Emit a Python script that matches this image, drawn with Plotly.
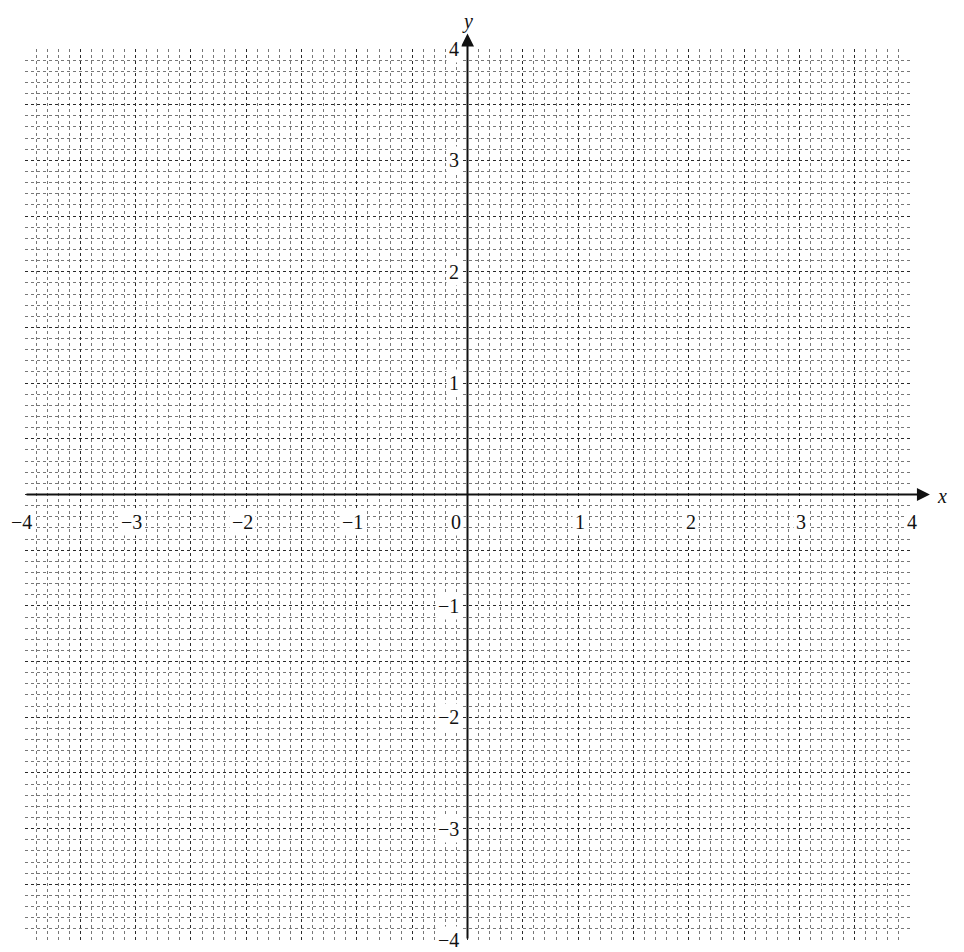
import plotly.graph_objects as go

x_range = [-4, 4]
y_range = [-4, 4]
x_tick_values = [-4, -3, -2, -1, 0, 1, 2, 3, 4]
x_tick_labels = ["−4", "−3", "−2", "−1", "0", "1", "2", "3", "4"]
y_tick_values = [-4, -3, -2, -1, 1, 2, 3, 4]
y_tick_labels = ["−4", "−3", "−2", "−1", "1", "2", "3", "4"]
arrow_tip_x = 4.18
arrow_tip_y = 4.14

FONT = "Liberation Serif, Times New Roman, serif"

fig = go.Figure()
fig.add_trace(go.Scatter(x=[], y=[], showlegend=False))

axis_common = dict(
    showgrid=True, gridcolor="#2a2a2a", griddash="dot", gridwidth=1,
    dtick=0.5, tick0=0, showticklabels=False, ticks="",
    zeroline=False, showline=False, fixedrange=True,
    minor=dict(showgrid=True, dtick=0.1, gridcolor="#777777", griddash="dot", gridwidth=1),
)
fig.update_xaxes(range=x_range, **axis_common)
fig.update_yaxes(range=y_range, **axis_common)

annotations = []
annotations.append(dict(x=arrow_tip_x, y=0, ax=x_range[0], ay=0, xref="x", yref="y", axref="x", ayref="y",
                        text="", showarrow=True, arrowhead=2, arrowsize=1.3, arrowwidth=2, arrowcolor="#111111"))
annotations.append(dict(x=0, y=arrow_tip_y, ax=0, ay=y_range[0], xref="x", yref="y", axref="x", ayref="y",
                        text="", showarrow=True, arrowhead=2, arrowsize=1.3, arrowwidth=2, arrowcolor="#111111"))
annotations.append(dict(x=x_range[1], y=0, xref="x", yref="y", text="<i>x</i>", showarrow=False,
                        xanchor="center", yanchor="middle", xshift=32, yshift=-1,
                        font=dict(family=FONT, size=20, color="#111111")))
annotations.append(dict(x=0, y=y_range[1], xref="x", yref="y", text="<i>y</i>", showarrow=False,
                        xanchor="center", yanchor="middle", yshift=28,
                        font=dict(family=FONT, size=20, color="#111111")))
for v, t in zip(x_tick_values, x_tick_labels):
    annotations.append(dict(x=v, y=0, xref="x", yref="y", text=t, showarrow=False,
                            xanchor="center", yanchor="middle", yshift=-27,
                            xshift=-12 if v == 0 else (2 if v > 0 else -4),
                            bgcolor="white", borderpad=2,
                            font=dict(family=FONT, size=20, color="#111111")))
for v, t in zip(y_tick_values, y_tick_labels):
    annotations.append(dict(x=0, y=v, xref="x", yref="y", text=t, showarrow=False,
                            xanchor="right", yanchor="middle", xshift=-6,
                            bgcolor="white", borderpad=2,
                            font=dict(family=FONT, size=20, color="#111111")))

fig.update_layout(
    width=956, height=944,
    margin=dict(l=17, r=54, t=41, b=12),
    plot_bgcolor="white", paper_bgcolor="white",
    annotations=annotations,
    showlegend=False,
)
fig.write_html("out.html")
